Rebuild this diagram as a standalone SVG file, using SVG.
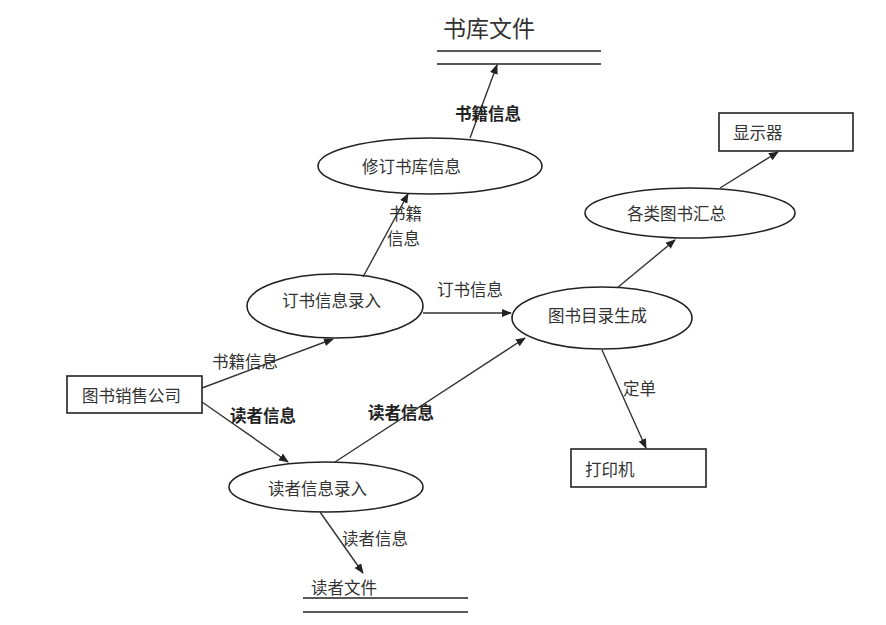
<svg xmlns="http://www.w3.org/2000/svg" width="886" height="625" viewBox="0 0 886 625">
<style>
text{font-family:"Noto Sans CJK SC","Liberation Serif",serif;font-size:16.5px;fill:#333;dominant-baseline:central}
.b{font-weight:bold;fill:#222}
.n{fill:#fff;stroke:#222;stroke-width:1.6}
.c line{stroke:#333;stroke-width:1.4;marker-end:url(#ah)}
.s{stroke:#222;stroke-width:1.6}
</style>
<defs>
<marker id="ah" viewBox="0 0 10 10" refX="9" refY="5" markerWidth="10" markerHeight="10" markerUnits="userSpaceOnUse" orient="auto">
<path d="M0,1 L10,5 L0,9 Z" fill="#222"/>
</marker>
</defs>
<rect width="886" height="625" fill="#fff"/>
<g id="store-books">
<text x="443" y="27" style="font-size:23px">书库文件</text>
<line class="s" x1="437" y1="51" x2="601" y2="51"/>
<line class="s" x1="437" y1="64" x2="601" y2="64"/>
</g>
<g id="store-readers">
<text x="311" y="587">读者文件</text>
<line class="s" x1="303" y1="598" x2="468" y2="598"/>
<line class="s" x1="303" y1="612" x2="468" y2="612"/>
</g>
<g id="p-revise">
<ellipse class="n" cx="430" cy="166" rx="112" ry="28"/>
<text x="362" y="166">修订书库信息</text>
</g>
<g id="p-order">
<ellipse class="n" cx="335" cy="306" rx="88" ry="32"/>
<text x="282" y="300">订书信息录入</text>
</g>
<g id="p-catalog">
<ellipse class="n" cx="602" cy="318" rx="90" ry="31"/>
<text x="548" y="315">图书目录生成</text>
</g>
<g id="p-summary">
<ellipse class="n" cx="690" cy="213" rx="105" ry="25"/>
<text x="627" y="213">各类图书汇总</text>
</g>
<g id="p-reader">
<ellipse class="n" cx="326" cy="487" rx="97" ry="25"/>
<text x="268" y="488">读者信息录入</text>
</g>
<g id="e-company">
<rect class="n" x="67" y="376" width="135" height="37"/>
<text x="82" y="395">图书销售公司</text>
</g>
<g id="e-display">
<rect class="n" x="719" y="113" width="134" height="38"/>
<text x="733" y="132">显示器</text>
</g>
<g id="e-printer">
<rect class="n" x="571" y="449" width="135" height="38"/>
<text x="585" y="469">打印机</text>
</g>
<g id="connectors" class="c">
<line x1="470" y1="138" x2="497" y2="65"/>
<line x1="363" y1="277" x2="408" y2="194"/>
<line x1="423" y1="313" x2="511" y2="313"/>
<line x1="617" y1="288" x2="675" y2="240"/>
<line x1="720" y1="188" x2="778" y2="152"/>
<line x1="602" y1="350" x2="646" y2="448"/>
<line x1="202" y1="388" x2="333" y2="339"/>
<line x1="202" y1="402" x2="288" y2="462"/>
<line x1="335" y1="462" x2="525" y2="338"/>
<line x1="320" y1="512" x2="363" y2="573"/>
</g>
<g id="labels">
<text class="b" x="455" y="113">书籍信息</text>
<text x="389" y="213">书籍</text>
<text x="387" y="238">信息</text>
<text x="437" y="289">订书信息</text>
<text x="623" y="388">定单</text>
<text x="212" y="361">书籍信息</text>
<text class="b" x="230" y="415">读者信息</text>
<text class="b" x="368" y="412">读者信息</text>
<text x="342" y="538">读者信息</text>
</g>
</svg>
